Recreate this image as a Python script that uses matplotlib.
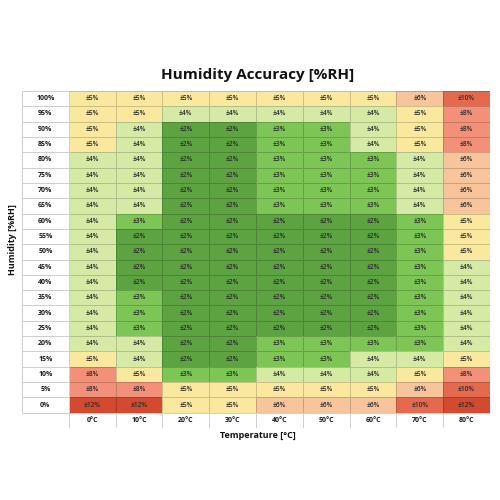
import matplotlib.pyplot as plt
from matplotlib.colors import ListedColormap, BoundaryNorm
import numpy as np

plt.rcParams['font.family'] = ['Open Sans', 'DejaVu Sans']

temps = ['0°C', '10°C', '20°C', '30°C', '40°C', '50°C', '60°C', '70°C', '80°C']
humidity = ['100%', '95%', '90%', '85%', '80%', '75%', '70%', '65%', '60%', '55%', '50%',
            '45%', '40%', '35%', '30%', '25%', '20%', '15%', '10%', '5%', '0%']

# accuracy (+/- %RH), one row per humidity level, top to bottom
accuracy = [
    [5, 5, 5, 5, 5, 5, 5, 6, 10],
    [5, 5, 4, 4, 4, 4, 4, 5, 8],
    [5, 4, 2, 2, 3, 3, 4, 5, 8],
    [5, 4, 2, 2, 3, 3, 4, 5, 8],
    [4, 4, 2, 2, 3, 3, 3, 4, 6],
    [4, 4, 2, 2, 3, 3, 3, 4, 6],
    [4, 4, 2, 2, 3, 3, 3, 4, 6],
    [4, 4, 2, 2, 3, 3, 3, 4, 6],
    [4, 3, 2, 2, 2, 2, 2, 3, 5],
    [4, 2, 2, 2, 2, 2, 2, 3, 5],
    [4, 2, 2, 2, 2, 2, 2, 3, 5],
    [4, 2, 2, 2, 2, 2, 2, 3, 4],
    [4, 2, 2, 2, 2, 2, 2, 3, 4],
    [4, 3, 2, 2, 2, 2, 2, 3, 4],
    [4, 3, 2, 2, 2, 2, 2, 3, 4],
    [4, 3, 2, 2, 2, 2, 2, 3, 4],
    [4, 4, 2, 2, 3, 3, 3, 3, 4],
    [5, 4, 2, 2, 3, 3, 4, 4, 5],
    [8, 5, 3, 3, 4, 4, 4, 5, 8],
    [8, 8, 5, 5, 5, 5, 5, 6, 10],
    [12, 12, 5, 5, 6, 6, 6, 10, 12],
]

levels = [2, 3, 4, 5, 6, 8, 10, 12]
level_colors = ['#5da342', '#7dc655', '#d5eaa5', '#fbe89f', '#f8c49b',
                '#f39079', '#e4694e', '#d24a2f']

cmap = ListedColormap(level_colors)
bounds = [1.5, 2.5, 3.5, 4.5, 5.5, 7, 9, 11, 13]
norm = BoundaryNorm(bounds, cmap.N)

data = np.array(accuracy)
nrows, ncols = data.shape

fig = plt.figure(figsize=(5, 5), dpi=100)
ax = fig.add_axes([22 / 500, 72 / 500, 468 / 500, 337 / 500])

# data cells
xe = np.arange(ncols + 1)
ye = np.arange(nrows + 1)
ax.pcolormesh(xe, ye, data, cmap=cmap, norm=norm,
              edgecolors=(0, 0, 0, 0.18), linewidth=0.5)

# white label column and header row (temperatures at the bottom)
white = ListedColormap(['white'])
ax.pcolormesh([-1, 0], ye, np.zeros((nrows, 1)), cmap=white,
              edgecolors='#cfcfcf', linewidth=0.6)
ax.pcolormesh(xe, [nrows, nrows + 1], np.zeros((1, ncols)), cmap=white,
              edgecolors='#cfcfcf', linewidth=0.6)

for i in range(nrows):
    ax.text(-0.5, i + 0.5, humidity[i], ha='center', va='center',
            fontsize=5, fontweight='bold', color='#1a1a1a')
    for j in range(ncols):
        ax.text(j + 0.5, i + 0.5, '±%d%%' % data[i, j], ha='center', va='center',
                fontsize=4.8, fontweight='semibold', color='#2a2a2a')
for j in range(ncols):
    ax.text(j + 0.5, nrows + 0.5, temps[j], ha='center', va='center',
            fontsize=5, fontweight='bold', color='#1a1a1a')

ax.set_xlim(-1, ncols)
ax.set_ylim(nrows + 1, 0)
ax.axis('off')

fig.text(0.515, 0.85, 'Humidity Accuracy [%RH]', ha='center', va='center',
         fontsize=11, fontweight='bold', color='#111111')
fig.text(0.515, 0.128, 'Temperature [°C]', ha='center', va='center',
         fontsize=6.5, fontweight='bold', color='#111111')
fig.text(0.024, 0.52, 'Humidity [%RH]', ha='center', va='center', rotation=90,
         fontsize=6.5, fontweight='bold', color='#111111')

fig.savefig('out.png', dpi=100, facecolor='white')
